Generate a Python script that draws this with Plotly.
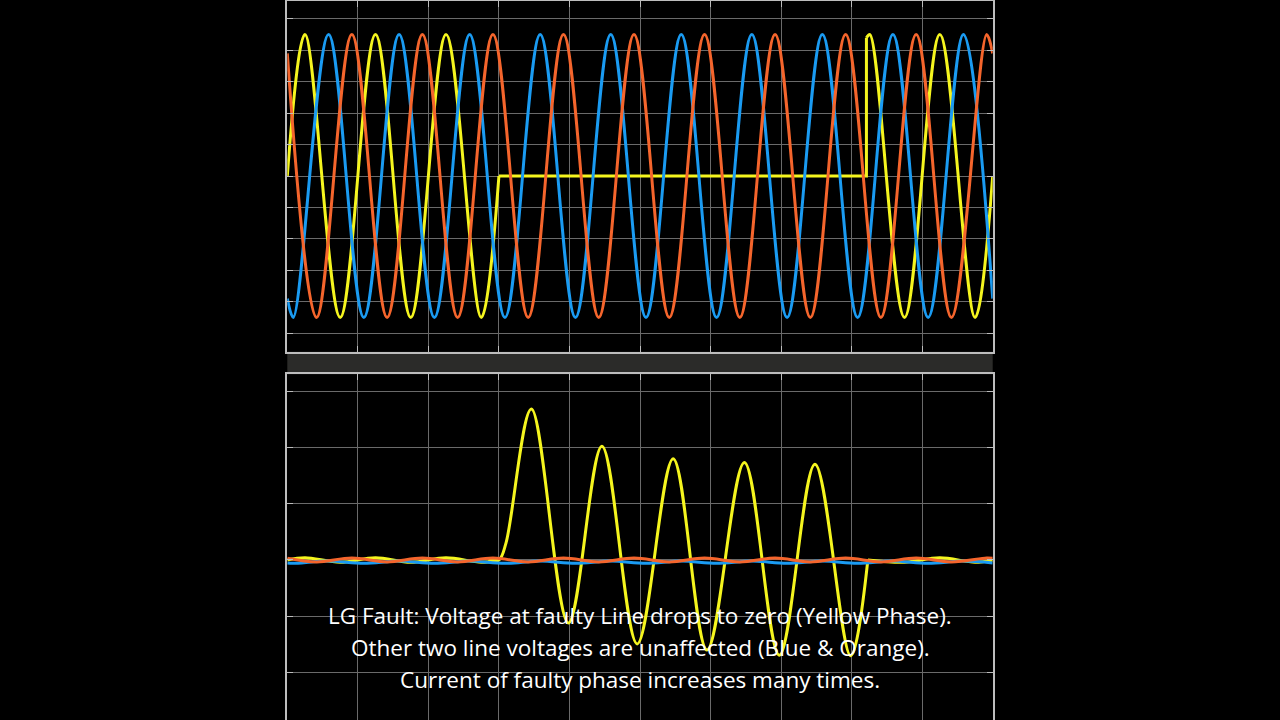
import plotly.graph_objects as go

# ---------------- data ----------------
# time axis in ms (one grid division = 20 ms = one cycle)
# Top panel: line voltages (grid units), extrema points
yel_v_pre_t = [0, 5, 15, 25, 35, 45, 55, 60]
yel_v_pre_v = [0, 4.5, -4.5, 4.5, -4.5, 4.5, -4.5, 0]
yel_v_flat_t = [60, 164.2, 164.2]
yel_v_flat_v = [0, 0, 4.4]
yel_v_post_t = [164.2, 165.2, 175, 185, 195, 200]
yel_v_post_v = [4.4, 4.5, -4.5, 4.5, -4.5, 0]

blue_t = [0, 1.7, 11.7, 21.7, 31.7, 41.7, 51.7, 61.7, 71.7, 81.7, 91.7,
          101.7, 111.7, 121.7, 131.7, 141.7, 151.7, 161.7, 171.7, 181.7, 191.7, 200]
blue_v = [-3.9, -4.5, 4.5, -4.5, 4.5, -4.5, 4.5, -4.5, 4.5, -4.5, 4.5,
          -4.5, 4.5, -4.5, 4.5, -4.5, 4.5, -4.5, 4.5, -4.5, 4.5, -3.9]

orange_t = [0, 8.3, 18.3, 28.3, 38.3, 48.3, 58.3, 68.3, 78.3, 88.3, 98.3,
            108.3, 118.3, 128.3, 138.3, 148.3, 158.3, 168.3, 178.3, 188.3, 198.3, 200]
orange_v = [3.9, -4.5, 4.5, -4.5, 4.5, -4.5, 4.5, -4.5, 4.5, -4.5, 4.5,
            -4.5, 4.5, -4.5, 4.5, -4.5, 4.5, -4.5, 4.5, -4.5, 4.5, 3.9]

# Bottom panel: line currents (grid units)
yel_i_pre_t = [0, 5, 15, 25, 35, 45, 55, 60]
yel_i_pre_v = [0, 0.04, -0.04, 0.04, -0.04, 0.04, -0.04, 0]
yel_i_fault_t = [57, 60, 62, 69.2, 79.7, 89.2, 99.2, 109.4, 119.0, 129.6, 139.5, 149.6, 159.7, 164.6]
yel_i_fault_v = [0, 0, 0.3, 2.68, -1.12, 2.02, -1.49, 1.80, -1.60, 1.73, -1.69, 1.70, -1.70, 0]
yel_i_post_t = [164.6, 175, 185, 195, 200]
yel_i_post_v = [0, -0.04, 0.04, -0.04, 0]

blue_i_t = [0, 1.7, 11.7, 21.7, 31.7, 41.7, 51.7, 61.7, 71.7, 81.7, 91.7,
            101.7, 111.7, 121.7, 131.7, 141.7, 151.7, 161.7, 171.7, 181.7, 191.7, 200]
blue_i_v = [-0.055, -0.06, -0.02, -0.06, -0.02, -0.06, -0.02, -0.06, -0.02, -0.06, -0.02,
            -0.06, -0.02, -0.06, -0.02, -0.06, -0.02, -0.06, -0.02, -0.06, -0.02, -0.055]
orange_i_t = [0, 8.3, 18.3, 28.3, 38.3, 48.3, 58.3, 68.3, 78.3, 88.3, 98.3,
              108.3, 118.3, 128.3, 138.3, 148.3, 158.3, 168.3, 178.3, 188.3, 198.3, 200]
orange_i_v = [0.03, -0.035, 0.035, -0.035, 0.035, -0.035, 0.035, -0.035, 0.035, -0.035, 0.035,
              -0.035, 0.035, -0.035, 0.035, -0.035, 0.035, -0.035, 0.035, -0.035, 0.035, 0.03]

caption_lines = [
    "LG Fault: Voltage at faulty Line drops to zero (Yellow Phase).",
    "Other two line voltages are unaffected (Blue & Orange).",
    "Current of faulty phase increases many times.",
]

YEL = "#F5F51E"
BLU = "#1A9BF2"
ORA = "#F5652C"
GRID = "#6a6a6a"
FRAME = "#bdbdbd"
W, H = 1280, 720

fig = go.Figure()

def add(t, v, color, xa, ya, shape="spline"):
    fig.add_trace(go.Scatter(x=t, y=v, mode="lines", xaxis=xa, yaxis=ya,
                             line=dict(color=color, width=3, shape=shape),
                             hoverinfo="skip", showlegend=False))

# top panel
add(yel_v_pre_t, yel_v_pre_v, YEL, "x", "y")
add(yel_v_flat_t, yel_v_flat_v, YEL, "x", "y", "linear")
add(yel_v_post_t, yel_v_post_v, YEL, "x", "y")
add(blue_t, blue_v, BLU, "x", "y")
add(orange_t, orange_v, ORA, "x", "y")
# bottom panel
add(yel_i_pre_t, yel_i_pre_v, YEL, "x2", "y2")
add(yel_i_post_t, yel_i_post_v, YEL, "x2", "y2")
add(yel_i_fault_t, yel_i_fault_v, YEL, "x2", "y2")
add(blue_i_t, blue_i_v, BLU, "x2", "y2")
add(orange_i_t, orange_i_v, ORA, "x2", "y2")

x0p, x1p = 287.3 / W, 992.7 / W
top_dom = [1 - 351.5 / H, 1 - 1.0 / H]
bot_dom = [0.0, 1 - 374.3 / H]

axcommon = dict(showgrid=True, gridcolor=GRID, gridwidth=1, zeroline=False,
                showticklabels=False, ticks="inside", ticklen=6, tickcolor=FRAME,
                tickwidth=1, showline=True, linecolor=FRAME, linewidth=1.5)

fig.update_layout(
    width=W, height=H, margin=dict(l=0, r=0, t=0, b=0),
    paper_bgcolor="black", plot_bgcolor="black", showlegend=False,
    xaxis=dict(domain=[x0p, x1p], range=[0, 200], dtick=20, tick0=0,
               anchor="y", mirror="allticks", **axcommon),
    yaxis=dict(domain=top_dom, range=[-5.584, 5.568], dtick=1, tick0=0,
               anchor="x", mirror="allticks", **axcommon),
    xaxis2=dict(domain=[x0p, x1p], range=[0, 200], dtick=20, tick0=0,
                anchor="y2", side="top", mirror=False, **axcommon),
    yaxis2=dict(domain=bot_dom, range=[-2.842, 3.298], dtick=1, tick0=0,
                anchor="x2", mirror="allticks", **axcommon),
)

# gray band between the two panels
fig.add_shape(type="rect", xref="paper", yref="paper",
              x0=x0p, x1=x1p, y0=1 - 374.3 / H, y1=1 - 351.7 / H,
              fillcolor="#2b2b29", line=dict(width=0), layer="below")

for i, (txt, ypx) in enumerate(zip(caption_lines, [615, 647, 679])):
    fig.add_annotation(text=txt, xref="paper", yref="paper", x=640 / W, y=1 - ypx / H,
                       xanchor="center", yanchor="middle", showarrow=False,
                       font=dict(family="Open Sans", size=22.5, color="white"))

fig.write_html("out.html", config={"displayModeBar": False},
               post_script="document.body.style.margin='0';document.body.style.background='black';")
